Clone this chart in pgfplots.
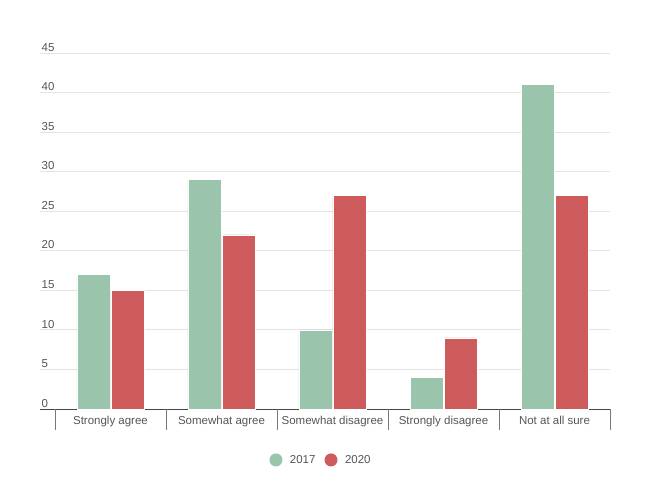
\documentclass[border=0pt]{standalone}
\usepackage{pgfplots}
\pgfplotsset{compat=1.18}
\usepackage{fontspec}
\setmainfont{Liberation Sans}

\definecolor{cgreen}{RGB}{155,196,172}
\definecolor{cred}{RGB}{205,91,91}
\definecolor{ctext}{RGB}{85,85,85}
\definecolor{cgrid}{RGB}{228,228,228}
\definecolor{cbase}{RGB}{70,70,70}
\definecolor{csep}{RGB}{120,120,120}

\begin{document}
\begin{tikzpicture}
\path[use as bounding box] (0bp,0bp) rectangle (650bp,-500bp);
\begin{axis}[
	at={(40bp,-409bp)}, anchor=south west,
	scale only axis,
	width=570bp, height=356bp,
	ybar, bar width=33bp,
	xmin=-0.635, xmax=4.5,
	ymin=0, ymax=45,
	enlargelimits=false,
	axis x line*=bottom, axis y line*=left,
	x axis line style={draw=cbase, line width=1pt, -},
	y axis line style={draw=none},
	ytick={0,5,...,45},
	ymajorgrids,
	major grid style={cgrid, line width=0.8pt},
	major y tick style={draw=none},
	xtick={0,1,2,3,4},
	xticklabels={Strongly agree, Somewhat agree, Somewhat disagree, Strongly disagree, Not at all sure},
	major x tick style={draw=none},
	extra x ticks={-0.5,0.5,1.5,2.5,3.5,4.5},
	extra x tick labels={},
	extra x tick style={major tick length=21bp, xtick align=outside, grid=none,
		major x tick style={draw=csep, line width=0.8pt}},
	/pgf/number format/assume math mode=true,
	tick label style={font=\fontsize{11.5bp}{13bp}\selectfont, text=ctext},
	yticklabel style={anchor=south west, inner sep=1.5bp},
	xticklabel style={anchor=center, yshift=-8bp, text height=8bp, text depth=2.5bp},
	legend style={at={(0.493,-0.143)}, anchor=center, draw=none, fill=none,
		legend columns=2, font=\fontsize{11.5bp}{13bp}\selectfont, text=ctext,
		/tikz/every even column/.style={column sep=7bp}},
	legend cell align=left,
]
\addplot[fill=cgreen, draw=white, line width=0.6pt, bar shift=-17bp,
	legend image code/.code={\fill[cgreen, draw=none] (0bp,0bp) circle (6.5bp);
		\path[draw=none, fill=none] (-6.5bp,0bp) -- (12bp,0bp);}]
	coordinates {(0,17) (1,29) (2,10) (3,4) (4,41)};
\addlegendentry{2017}
\addplot[fill=cred, draw=white, line width=0.6pt, bar shift=17bp,
	legend image code/.code={\fill[cred, draw=none] (0bp,0bp) circle (6.5bp);
		\path[draw=none, fill=none] (-6.5bp,0bp) -- (12bp,0bp);}]
	coordinates {(0,15) (1,22) (2,27) (3,9) (4,27)};
\addlegendentry{2020}
\end{axis}
\end{tikzpicture}
\end{document}
